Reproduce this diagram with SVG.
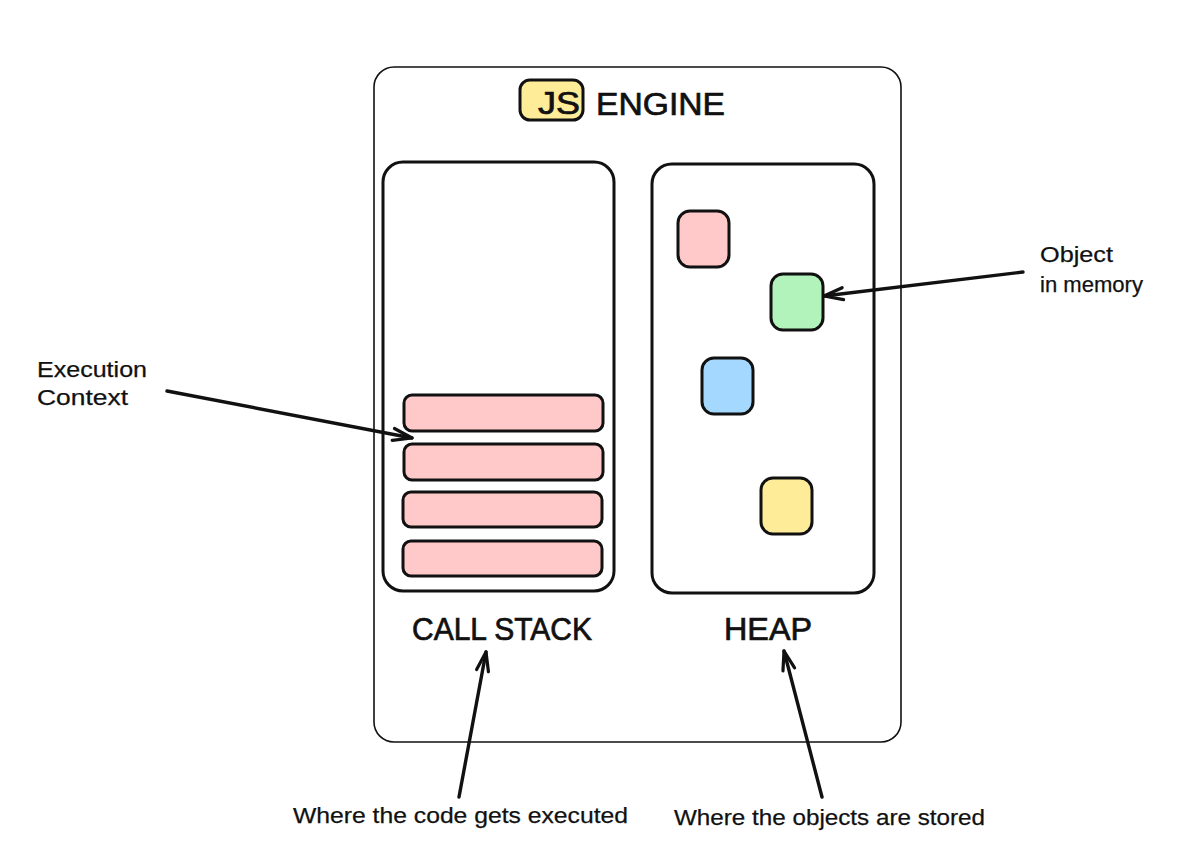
<svg xmlns="http://www.w3.org/2000/svg" width="1200" height="842" viewBox="0 0 1200 842">
<style>
.box{fill:none;stroke:#111;stroke-width:3}
.item{stroke:#111;stroke-width:3}
.pink{fill:#ffc9c9}.green{fill:#b2f2bb}.blue{fill:#a5d8ff}.yellow{fill:#ffec99}
.conn{fill:none;stroke:#111;stroke-width:3.4;stroke-linecap:round;marker-end:url(#arrow)}
text{font-family:"Liberation Sans","DejaVu Sans",sans-serif;fill:#111}
.big{font-size:31px;stroke:#111;stroke-width:.7}
.small{font-size:22px;stroke:#111;stroke-width:.25}
</style>
<defs>
<marker id="arrow" markerUnits="userSpaceOnUse" markerWidth="30" markerHeight="30" refX="25" refY="15" orient="auto">
<path d="M6 9 L25 15 L6 21" fill="none" stroke="#111" stroke-width="3.2" stroke-linecap="round" stroke-linejoin="round"/>
</marker>
</defs>
<rect width="1200" height="842" fill="#fff"/>
<g id="engine"><rect x="374" y="67" width="527" height="675" rx="20" fill="#fff" stroke="#111" stroke-width="1.6"/></g>
<g id="js-badge"><rect class="item yellow" x="520" y="80" width="63" height="40" rx="10"/><text class="big" x="538" y="114" textLength="42" lengthAdjust="spacingAndGlyphs">JS</text></g>
<g id="engine-label"><text class="big" x="596" y="115" textLength="129" lengthAdjust="spacingAndGlyphs">ENGINE</text></g>
<g id="call-stack"><rect class="box" x="383" y="162" width="231" height="429" rx="20"/></g>
<g id="heap"><rect class="box" x="652" y="164" width="222" height="429" rx="20"/></g>
<g id="context-1"><rect class="item pink" x="404" y="395" width="199" height="36" rx="8"/></g>
<g id="context-2"><rect class="item pink" x="404" y="444" width="199" height="36" rx="8"/></g>
<g id="context-3"><rect class="item pink" x="403" y="492" width="199" height="35" rx="8"/></g>
<g id="context-4"><rect class="item pink" x="403" y="541" width="199" height="35" rx="8"/></g>
<g id="object-pink"><rect class="item pink" x="678" y="211" width="51" height="56" rx="12"/></g>
<g id="object-green"><rect class="item green" x="771" y="274" width="52" height="56" rx="12"/></g>
<g id="object-blue"><rect class="item blue" x="702" y="358" width="51" height="56" rx="12"/></g>
<g id="object-yellow"><rect class="item yellow" x="761" y="478" width="51" height="56" rx="12"/></g>
<g id="connectors">
<path class="conn" d="M167 391 L412 438"/>
<path class="conn" d="M1023 272 L824 296"/>
<path class="conn" d="M459 797 L486 652"/>
<path class="conn" d="M822 797 L784 651"/>
</g>
<g id="labels">
<text class="big" x="412" y="640" textLength="180" lengthAdjust="spacingAndGlyphs">CALL STACK</text>
<text class="big" x="724" y="640" textLength="88" lengthAdjust="spacingAndGlyphs">HEAP</text>
<text class="small" x="37" y="377" textLength="110" lengthAdjust="spacingAndGlyphs">Execution</text>
<text class="small" x="37" y="405" textLength="91" lengthAdjust="spacingAndGlyphs">Context</text>
<text class="small" x="1040" y="262" textLength="73" lengthAdjust="spacingAndGlyphs">Object</text>
<text class="small" x="1040" y="292" textLength="103" lengthAdjust="spacingAndGlyphs">in memory</text>
<text class="small" x="293" y="823" textLength="335" lengthAdjust="spacingAndGlyphs">Where the code gets executed</text>
<text class="small" x="674" y="825" textLength="311" lengthAdjust="spacingAndGlyphs">Where the objects are stored</text>
</g>
</svg>
